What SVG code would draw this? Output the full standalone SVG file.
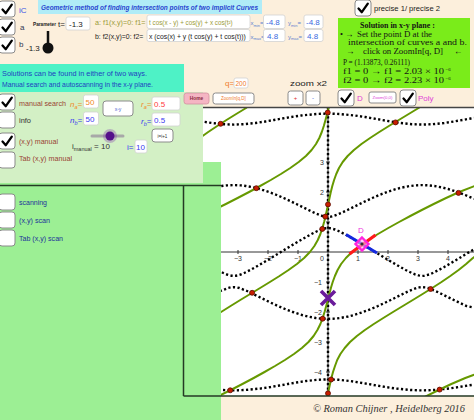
<svg xmlns="http://www.w3.org/2000/svg" width="474" height="420" viewBox="0 0 474 420">
<defs>
<style>
.ui{font-family:"Liberation Sans",Arial,sans-serif;font-size:8px}
.sf{font-family:"Liberation Serif","Times New Roman",serif;font-size:8.5px;fill:#141414}
.box{fill:#fff;stroke:#d2d2d2;stroke-width:0.8}
.cb{fill:#fff;stroke:#8a8a8a;stroke-width:1}
.chk{fill:none;stroke:#000;stroke-width:2.3;stroke-linecap:round;stroke-linejoin:round}
.green{fill:none;stroke:#669900;stroke-width:2;stroke-linejoin:round;stroke-linecap:round}
.dot{fill:none;stroke:#000;stroke-width:2.4;stroke-dasharray:2.2 2.4}
.pt{fill:#c81e00;stroke:#5a0c00;stroke-width:0.8}
.ax{font-family:"Liberation Sans",Arial,sans-serif;font-size:7px;fill:#333}
.btn{fill:#fff;stroke:#8c8c8c;stroke-width:1}
.frame{stroke:#243a24;stroke-width:1.5;fill:none}
</style>
<g id="cbon"><rect class="cb" x="0" y="0" width="16" height="16" rx="3"/><path class="chk" d="M3.5,8.5 L6.8,12.2 L12.8,3.6"/></g>
<g id="cboff"><rect class="cb" x="0" y="0" width="16" height="16" rx="3"/></g>
<clipPath id="gc"><rect x="184" y="107" width="290" height="289"/></clipPath>
</defs>

<rect x="0" y="0" width="474" height="420" fill="#fcefdc"/>

<!-- graph -->
<g id="graph">
<rect x="184" y="107" width="290" height="289" fill="#fff"/>
<g clip-path="url(#gc)">
<line x1="184" y1="252" x2="474" y2="252" stroke="#333" stroke-width="1"/>
<line x1="328" y1="107" x2="328" y2="396" stroke="#333" stroke-width="1"/>
<path d="M238,250v4M268,250v4M298,250v4M358,250v4M388,250v4M418,250v4M448,250v4M326,162h4M326,192h4M326,222h4M326,282h4M326,312h4M326,342h4M326,372h4" stroke="#333" stroke-width="1"/>
<g class="ax">
<text x="238" y="261" text-anchor="middle">−3</text>
<text x="268" y="261" text-anchor="middle">−2</text>
<text x="298" y="261" text-anchor="middle">−1</text>
<text x="322" y="261" text-anchor="middle">0</text>
<text x="358" y="261" text-anchor="middle">1</text>
<text x="388" y="261" text-anchor="middle">2</text>
<text x="418" y="261" text-anchor="middle">3</text>
<text x="448" y="261" text-anchor="middle">4</text>
<text x="324" y="164.5" text-anchor="end">3</text>
<text x="324" y="194.5" text-anchor="end">2</text>
<text x="322" y="284.5" text-anchor="end">−1</text>
<text x="322" y="314.5" text-anchor="end">−2</text>
<text x="322" y="344.5" text-anchor="end">−3</text>
<text x="322" y="374.5" text-anchor="end">−4</text>
</g>
</g>
</g>

<!-- connectors: curves -->
<g id="curves" clip-path="url(#gc)">
<g id="curve-b">
<line class="dot" x1="328" y1="107" x2="328" y2="396"/>
<polyline class="dot" points="182,249.4 186.6,252 191.6,255 196.5,258 201.5,261 206.6,264 211.8,267 217.3,270 223.3,273 226.9,274.5 230,275.4 231.6,275.7 233.8,275.9 235.9,275.7 237.5,275.4 240.6,274.5 244.2,273 250.3,270 255.7,267 260.9,264 266,261 271,258 275.9,255 280.9,252 285.8,249 290.8,246 295.8,243 300.9,240 306.1,237 311.5,234 317.5,231 321.2,229.5 324.2,228.6 325.9,228.3 328,228.1 330.1,228.3 331.8,228.6 334.8,229.5 338.5,231 344.5,234 349.9,237 355.1,240 360.2,243 365.2,246 370.2,249 375.1,252 380.1,255 385,258 390,261 395.1,264 400.3,267 405.7,270 411.8,273 415.4,274.5 418.5,275.4 420.1,275.7 422.2,275.9 424.4,275.7 426,275.4 429.1,274.5 432.7,273 438.7,270 444.2,267 449.4,264 454.5,261 459.5,258 464.4,255 469.4,252 474,249.4"/>
<polyline class="dot" points="182,198.8 183.8,198 190.8,195 198.5,192 207.8,189 213.6,187.5 221.6,186 226.8,185.4 233.8,185.1 240.8,185.4 245.9,186 253.9,187.5 259.75,189 269,192 276.7,195 283.7,198 290.2,201 296.4,204 302.5,207 308.5,210 314.7,213 322.4,216 324.9,216.6 328,216.9 331.1,216.6 333.6,216 341.3,213 347.5,210 353.5,207 359.6,204 365.8,201 372.3,198 379.3,195 387,192 396.25,189 402.1,187.5 410.05,186 415.2,185.4 422.2,185.1 429.2,185.4 434.4,186 442.4,187.5 448.2,189 457.5,192 465.2,195 472.2,198 474,198.8"/>
<polyline class="dot" points="182,117.9 185.2,118.5 193.5,120 202.1,121.5 211.9,123 223.3,124.2 233.8,124.6 244.2,124.2 255.6,123 265.4,121.5 274,120 282.3,118.5 291,117 301.2,115.5 316.6,114 323.8,113.7 328,113.6 332.2,113.7 339.4,114 354.8,115.5 365,117 373.7,118.5 382,120 390.6,121.5 400.4,123 411.8,124.2 422.2,124.6 432.7,124.2 444.1,123 453.9,121.5 462.5,120 470.8,118.5 474,117.9"/>
<polyline class="dot" points="182,307.8 184,307.2 189.5,306 196,303 202.2,300 208.2,297 214.3,294 220.5,291 228.1,288 230.7,287.4 233.8,287.1 236.8,287.4 239.4,288 247,291 253.2,294 259.3,297 265.3,300 271.5,303 278,306 285,309 292.8,312 302,315 307.9,316.5 315.8,318 321,318.6 328,318.9 335,318.6 340.2,318 348.1,316.5 354,315 363.2,312 371,309 378,306 384.5,303 390.7,300 396.7,297 402.8,294 409,291 416.6,288 419.2,287.4 422.2,287.1 425.3,287.4 427.9,288 435.5,291 441.7,294 447.8,297 453.8,300 460,303 466.5,306 472,307.2 474,307.8"/>
<polyline class="dot" points="182,384.6 184,384.9 188.1,385.5 196.8,387 206.9,388.5 222.3,390 229.5,390.3 233.8,390.4 238,390.3 245.2,390 260.6,388.5 270.7,387 279.4,385.5 287.8,384 296.3,382.5 306.1,381 317.5,379.8 328,379.4 338.5,379.8 349.9,381 359.7,382.5 368.2,384 376.6,385.5 385.3,387 395.4,388.5 410.8,390 418,390.3 422.2,390.4 426.5,390.3 433.7,390 449.1,388.5 459.2,387 467.9,385.5 472,384.9 474,384.6"/>
</g>
<g id="curve-a">
<polyline class="green" points="185,150 192,144 199.8,138 208.2,132 217.2,126 226.5,120 236.2,114 246.1,108 247.8,106"/>
<polyline class="green" points="184,223 186.25,222 200.7,216 213.6,210 225.9,204 237.6,198 249.1,192 260.1,186 270.8,180 280.9,174 290.3,168 298.7,162 305.9,156 311.6,150 316,144 319.3,138 321.8,132 323.8,126 325.5,120 327.1,114 328.6,108 329,106"/>
<polyline class="green" points="181.3,342 187.8,336 195.2,330 203.2,324 211.9,318 221.05,312 230.6,306 240.3,300 250.2,294 260.1,288 269.9,282 279.5,276 288.55,270 296.9,264 304.1,258 309.9,252 314.4,246 317.8,240 320.4,234 322.45,228 324.1,222 325.6,216 326.9,210 328.2,204 329.5,198 330.8,192 332.3,186 334.1,180 336.25,174 339,168 342.7,162 347.65,156 353.95,150 361.45,144 370.1,138 379.3,132 388.9,126 398.8,120 408.7,114 418.6,108 420,107"/>
<polyline class="green" points="217.5,397 218.8,396 230.8,390 242.4,384 253.7,378 264.55,372 275,366 284.9,360 293.95,354 301.9,348 308.5,342 313.6,336 317.4,330 320.4,324 322.7,318 324.55,312 326.2,306 327.8,300 329.3,294 330.9,288 332.7,282 334.9,276 337.6,270 341.1,264 345.9,258 352,252 359.6,246 368.35,240 378,234 388.3,228 399.1,222 410.3,216 421.8,210 433.7,204 446.05,198 459.25,192 474.7,186"/>
<polyline class="green" points="327.3,397 327.4,396 328.7,390 330,384 331.4,378 333,372 335,366 337.2,360 340.4,354 344.7,348 350.05,342 356.9,336 364.9,330 373.8,324 383.3,318 393,312 402.9,306 412.8,300 422.6,294 432.2,288 441.5,282 450.3,276 458.6,270 466.1,264 472.9,258 475,256.5"/>
<polyline class="green" points="424.7,397 426.7,396 438.7,390 451.3,384 465.3,378 473.4,375 475,374.4"/>
</g>
<g id="points">
<circle class="pt" cx="220.6" cy="123.8" r="2.5"/>
<circle class="pt" cx="327.7" cy="112.5" r="2.5"/>
<circle class="pt" cx="395.5" cy="122.4" r="2.5"/>
<circle class="pt" cx="256.3" cy="188.2" r="2.5"/>
<circle class="pt" cx="458.5" cy="192.9" r="2.5"/>
<circle class="pt" cx="328" cy="204.4" r="2.5"/>
<circle class="pt" cx="325.3" cy="216.6" r="2.5"/>
<circle class="pt" cx="322.3" cy="228.9" r="2.5"/>
<circle class="pt" cx="252.1" cy="292.8" r="2.5"/>
<circle class="pt" cx="430.6" cy="289" r="2.5"/>
<circle class="pt" cx="322.6" cy="318.7" r="2.5"/>
<circle class="pt" cx="331.1" cy="379.5" r="2.5"/>
<circle class="pt" cx="230.2" cy="390.3" r="2.5"/>
<circle class="pt" cx="328" cy="393.3" r="2.5"/>
<circle class="pt" cx="439.6" cy="389.6" r="2.5"/>
</g>
</g>

<g id="pointD">
<line x1="346" y1="234.5" x2="377" y2="253" stroke="#1428e0" stroke-width="3.2"/>
<line x1="349.5" y1="254" x2="375.5" y2="235" stroke="#ff1a1a" stroke-width="3.2"/>
<path d="M362,237.5 L368.5,244 L362,250.5 L355.5,244 Z" fill="#ffb3f0" fill-opacity="0.6" stroke="#ff22dd" stroke-width="2.4"/>
<circle cx="362" cy="244" r="1.6" fill="#333"/>
<text x="361" y="233" font-family="Liberation Sans,Arial,sans-serif" font-size="8" fill="#ee33dd" text-anchor="middle">D</text>
</g>
<g id="markX">
<path d="M321,291 L335,305 M335,291 L321,305" stroke="#6a1b9a" stroke-width="3.6" stroke-linecap="butt"/>
</g>

<!-- left panels -->
<g id="panel-scan">
<rect x="0" y="162" width="221" height="258" fill="#9cef94"/>
<use href="#cboff" x="-1" y="194"/>
<text class="ui" x="19" y="205" fill="#22339a" textLength="28" lengthAdjust="spacingAndGlyphs">scanning</text>
<use href="#cboff" x="-1" y="212"/>
<text class="ui" x="19" y="223" fill="#22339a" textLength="31" lengthAdjust="spacingAndGlyphs">(x,y) scan</text>
<use href="#cboff" x="-1" y="230"/>
<text class="ui" x="19" y="241" fill="#22339a" textLength="44" lengthAdjust="spacingAndGlyphs">Tab (x,y) scan</text>
</g>

<g id="panel-manual">
<rect x="0" y="92" width="203" height="91" fill="#d3f0c5"/>
<use href="#cbon" x="-1" y="94"/>
<text class="ui" x="19" y="106" style="font-size:7px" fill="#9a4434" textLength="47" lengthAdjust="spacingAndGlyphs">manual search</text>
<text class="ui" x="70" y="107" fill="#f08a2a" font-style="italic">n<tspan font-size="5.5" dy="2">a</tspan><tspan dy="-2">=</tspan></text>
<rect class="box" x="83.5" y="95" width="15" height="13" rx="2"/>
<text class="ui" x="85.5" y="105" fill="#f08a2a">50</text>
<rect class="btn" x="103" y="101" width="30" height="15" rx="3"/>
<text class="ui" x="118" y="110.5" style="font-size:5px" fill="#4a5ad0" text-anchor="middle">x-y</text>
<text class="ui" x="141" y="107" fill="#f08a2a" font-style="italic">r<tspan font-size="5.5" dy="2">a</tspan><tspan dy="-2">=</tspan></text>
<rect class="box" x="152" y="97" width="28" height="13" rx="2"/>
<text class="ui" x="154" y="107" fill="#ff3a3a">0.5</text>

<use href="#cboff" x="-1" y="112"/>
<text class="ui" x="19" y="123" fill="#333" textLength="12" lengthAdjust="spacingAndGlyphs">info</text>
<text class="ui" x="70" y="123" fill="#3a3af0" font-style="italic">n<tspan font-size="5.5" dy="2">b</tspan><tspan dy="-2">=</tspan></text>
<rect class="box" x="83.5" y="112" width="15" height="13" rx="2"/>
<text class="ui" x="85.5" y="122" fill="#3a3af0">50</text>
<text class="ui" x="141" y="124" fill="#3a3af0" font-style="italic">r<tspan font-size="5.5" dy="2">b</tspan><tspan dy="-2">=</tspan></text>
<rect class="box" x="152" y="113" width="28" height="13" rx="2"/>
<text class="ui" x="154" y="123" fill="#3a3af0">0.5</text>

<use href="#cbon" x="-1" y="133"/>
<text class="ui" x="19" y="144" fill="#9a4434" textLength="39" lengthAdjust="spacingAndGlyphs">(x,y) manual</text>
<line x1="92" y1="136" x2="123" y2="136" stroke="#a8a8a8" stroke-width="3" stroke-linecap="round"/>
<circle cx="110" cy="136" r="7" fill="#7a2aa8" fill-opacity="0.3"/>
<circle cx="110" cy="136" r="4.5" fill="#55108a"/>
<text class="ui" x="72" y="149" fill="#333">i<tspan font-size="5.5" dy="2">manual</tspan><tspan dy="-2"> = 10</tspan></text>
<text class="ui" x="127" y="150" fill="#3a3af0">i=</text>
<rect class="box" x="135" y="140" width="12" height="13" rx="2"/>
<text class="ui" x="136" y="150" fill="#3a3af0">10</text>
<rect class="btn" x="152" y="129" width="21" height="13" rx="3"/>
<text class="ui" x="162.5" y="137.5" style="font-size:4.5px" fill="#333" text-anchor="middle">i=i+1</text>

<use href="#cboff" x="-1" y="152"/>
<text class="ui" x="19" y="161" fill="#9a4434" textLength="53" lengthAdjust="spacingAndGlyphs">Tab (x,y) manual</text>
</g>

<g id="frame-lines">
<path class="frame" d="M0,185.5 H221 M183.5,185.5 V396 M183.5,396 H474"/>
<line x1="203" y1="107.5" x2="474" y2="107.5" stroke="#444" stroke-width="1.4"/>
</g>

<!-- top controls -->
<g id="top-checks">
<use href="#cbon" x="-1" y="1"/>
<text class="ui" x="19" y="13" fill="#3a55e6">iC</text>
<use href="#cbon" x="-1" y="19"/>
<text class="ui" x="20" y="30" fill="#333a55">a</text>
<use href="#cbon" x="-1" y="37"/>
<text class="ui" x="19" y="47" fill="#333a55">b</text>
</g>

<g id="title">
<rect x="38" y="0" width="224" height="14" fill="#b0ecf7"/>
<text class="ui" x="41" y="10" font-weight="bold" font-style="italic" fill="#2a46d0" textLength="217" lengthAdjust="spacingAndGlyphs">Geometric method of finding intersection points of two implicit Curves</text>
</g>

<g id="parameter">
<text class="ui" x="33" y="26" style="font-size:5px" font-weight="bold" fill="#222" textLength="23" lengthAdjust="spacingAndGlyphs">Parameter</text>
<text class="ui" x="58" y="27" fill="#222">t=</text>
<rect class="box" x="66" y="17" width="24" height="13" rx="2"/>
<text class="ui" x="69" y="27" fill="#222">-1.3</text>
<line x1="48" y1="31" x2="48" y2="48" stroke="#111" stroke-width="2.5"/>
<circle cx="48" cy="48" r="5.5" fill="#111"/>
<text class="ui" x="26" y="51" fill="#222">-1.3</text>
</g>

<g id="func-a">
<text class="ui" x="95" y="25" style="font-size:7.2px" fill="#9b9b38">a: f1(x,y)=0: f1=</text>
<rect class="box" x="147" y="15" width="103" height="13.5" rx="2"/>
<text class="ui" x="149" y="25" style="font-size:6.3px" fill="#9b9b38">t cos(x - y) + cos(y) + x cos(t²)</text>
<text class="ui" x="250.5" y="25" style="font-size:6px" fill="#5a7fd0">x<tspan font-size="4" dy="1.5">min</tspan><tspan dy="-1.5">=</tspan></text>
<rect class="box" x="263.5" y="15" width="21.5" height="13.5" rx="2"/>
<text class="ui" x="266" y="25" fill="#3a6ae0">-4.8</text>
<text class="ui" x="288" y="25" style="font-size:6px" fill="#5a7fd0">y<tspan font-size="4" dy="1.5">min</tspan><tspan dy="-1.5">=</tspan></text>
<rect class="box" x="304" y="15" width="19" height="13.5" rx="2"/>
<text class="ui" x="306" y="25" fill="#3a6ae0">-4.8</text>
</g>

<g id="func-b">
<text class="ui" x="95" y="38.5" style="font-size:6.9px" fill="#222">b: f2(x,y)=0: f2=</text>
<rect class="box" x="147" y="29.5" width="103" height="12" rx="2"/>
<text class="ui" x="149" y="38.5" style="font-size:6.8px" fill="#222">x (cos(x) + y (t cos(y) + t cos(t)))</text>
<text class="ui" x="250.5" y="38.5" style="font-size:6px" fill="#5a7fd0">x<tspan font-size="4" dy="1.5">max</tspan><tspan dy="-1.5">=</tspan></text>
<rect class="box" x="263.5" y="29.5" width="21.5" height="12" rx="2"/>
<text class="ui" x="267" y="38.5" fill="#3a6ae0">4.8</text>
<text class="ui" x="288" y="38.5" style="font-size:6px" fill="#5a7fd0">y<tspan font-size="4" dy="1.5">max</tspan><tspan dy="-1.5">=</tspan></text>
<rect class="box" x="304" y="29.5" width="19" height="12" rx="2"/>
<text class="ui" x="307" y="38.5" fill="#3a6ae0">4.8</text>
</g>

<g id="precise">
<use href="#cbon" x="355" y="0"/>
<text class="ui" x="374" y="11" style="font-size:7.5px" fill="#222" textLength="66" lengthAdjust="spacingAndGlyphs">precise 1/ precise 2</text>
</g>

<g id="solution">
<rect x="338" y="18" width="132" height="70" fill="#7aec1a"/>
<text class="sf" x="360" y="28" font-weight="bold" textLength="75" lengthAdjust="spacingAndGlyphs">Solution in x-y plane :</text>
<text class="sf" x="340" y="36.5">•</text>
<text class="sf" x="345" y="36.5">→</text>
<text class="sf" x="357" y="36.5" textLength="75" lengthAdjust="spacingAndGlyphs">Set the point D at the</text>
<text class="sf" x="348" y="45" textLength="119" lengthAdjust="spacingAndGlyphs">intersection  of curves a and b.</text>
<text class="sf" x="346" y="53.5">→</text>
<text class="sf" x="363" y="53.5" textLength="80" lengthAdjust="spacingAndGlyphs">click on ZoomIn[q, D]</text>
<text class="sf" x="454" y="53.5">←</text>
<text class="sf" x="343" y="65" textLength="67" lengthAdjust="spacingAndGlyphs">P = (1.13873, 0.26111)</text>
<text class="sf" x="343" y="74" textLength="101" lengthAdjust="spacingAndGlyphs">f1 = 0 → f1 = 2.03 × 10</text>
<text class="sf" x="445.5" y="70.5" style="font-size:5px">−6</text>
<text class="sf" x="343" y="83" textLength="101" lengthAdjust="spacingAndGlyphs">f2 = 0 → f2 = 2.23 × 10</text>
<text class="sf" x="445.5" y="79.5" style="font-size:5px">−6</text>
</g>

<g id="d-controls">
<use href="#cbon" x="338" y="90"/>
<text class="ui" x="357" y="101" fill="#e040d8">D</text>
<rect class="btn" x="369" y="92" width="27" height="11" rx="2"/>
<text class="ui" x="382.5" y="99.3" style="font-size:4.3px" fill="#e040d8" text-anchor="middle">Zoom(0,0)</text>
<use href="#cbon" x="400" y="90"/>
<text class="ui" x="418" y="101" fill="#e040d8">Poly</text>
</g>

<g id="zoom-controls">
<text class="ui" x="225" y="86" fill="#f07a2a">q=</text>
<rect class="box" x="234" y="78" width="14" height="10" rx="2"/>
<text class="ui" x="235.5" y="85.8" style="font-size:6.5px" fill="#f07a2a">200</text>
<text class="ui" x="290" y="86" fill="#222" textLength="37" lengthAdjust="spacingAndGlyphs">zoom x2</text>
<rect x="184" y="93" width="25" height="11" rx="2.5" fill="#f5b5c3" stroke="#d0909e" stroke-width="0.8"/>
<text class="ui" x="196.5" y="100.3" style="font-size:4.8px" font-weight="bold" fill="#8a2a40" text-anchor="middle">Home</text>
<rect class="btn" x="213" y="93" width="41" height="11" rx="2.5"/>
<text class="ui" x="233.5" y="100.3" style="font-size:4.5px" fill="#f07a2a" text-anchor="middle">ZoomIn[q,D]</text>
<rect class="btn" x="288" y="91" width="15" height="14" rx="2.5"/>
<text class="ui" x="295.5" y="100" style="font-size:6px" fill="#e03030" text-anchor="middle">+</text>
<rect class="btn" x="306" y="91" width="14" height="14" rx="2.5"/>
<text class="ui" x="313" y="100" style="font-size:6px" fill="#3050e0" text-anchor="middle">-</text>
</g>

<g id="info-box">
<rect x="0" y="64" width="184" height="28" fill="#4ef2c6"/>
<text class="ui" x="2" y="76" style="font-size:7.5px" fill="#1f3fc0" textLength="145" lengthAdjust="spacingAndGlyphs">Solutions can be found  in  either of two ways.</text>
<text class="ui" x="2" y="87" style="font-size:7.5px" fill="#1f3fc0" textLength="151" lengthAdjust="spacingAndGlyphs">Manual search and autoscanning in the x-y plane.</text>
</g>

<g id="copyright">
<text x="313" y="412" font-family="Liberation Serif,Times New Roman,serif" font-style="italic" font-size="9.5" fill="#333" textLength="152" lengthAdjust="spacingAndGlyphs">© Roman Chijner , Heidelberg 2016</text>
</g>
</svg>
